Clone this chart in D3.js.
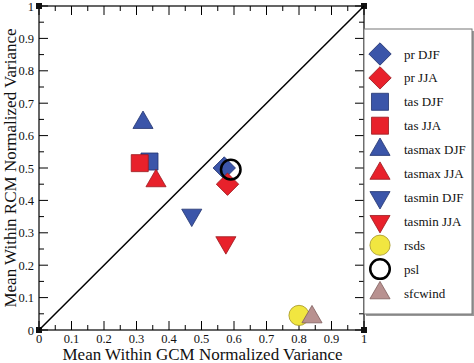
<!DOCTYPE html>
<html>
<head>
<meta charset="utf-8">
<script src="https://cdn.jsdelivr.net/npm/d3@7"></script>
<style>
  body { margin: 0; background: #fff; }
  text { font-family: "Liberation Serif", "Times New Roman", serif; fill: #111; }
</style>
</head>
<body>
<svg id="chart" width="474" height="363"></svg>
<script>
// series names, in legend / draw order
var seriesNames = ["pr DJF", "pr JJA", "tas DJF", "tas JJA", "tasmax DJF", "tasmax JJA",
                   "tasmin DJF", "tasmin JJA", "rsds", "psl", "sfcwind"];
// mean within GCM normalized variance
var gcmVariance = [0.57, 0.58, 0.34, 0.31, 0.32, 0.36, 0.47, 0.575, 0.80, 0.59, 0.84];
// mean within RCM normalized variance
var rcmVariance = [0.50, 0.45, 0.52, 0.515, 0.64, 0.46, 0.355, 0.27, 0.045, 0.495, 0.04];
var tickValues = [0, 0.1, 0.2, 0.3, 0.4, 0.5, 0.6, 0.7, 0.8, 0.9, 1];
var minorTicks = [0.05, 0.15, 0.25, 0.35, 0.45, 0.55, 0.65, 0.75, 0.85, 0.95];

var blue = "#3b55a9", red = "#e8212b";
var markerStyles = {
    "pr DJF":     { shape: "diamond",  fill: blue,      stroke: "#22336f" },
    "pr JJA":     { shape: "diamond",  fill: red,       stroke: "#9a1a1f" },
    "tas DJF":    { shape: "square",   fill: blue,      stroke: "#22336f" },
    "tas JJA":    { shape: "square",   fill: red,       stroke: "#9a1a1f" },
    "tasmax DJF": { shape: "triUp",    fill: blue,      stroke: "#22336f" },
    "tasmax JJA": { shape: "triUp",    fill: red,       stroke: "#9a1a1f" },
    "tasmin DJF": { shape: "triDown",  fill: blue,      stroke: "#22336f" },
    "tasmin JJA": { shape: "triDown",  fill: red,       stroke: "#9a1a1f" },
    "rsds":       { shape: "circle",   fill: "#f1e640", stroke: "#a39427" },
    "psl":        { shape: "ring",     fill: "none",    stroke: "#000" },
    "sfcwind":    { shape: "triUp",    fill: "#b89190", stroke: "#7d5d5c" }
};

var margin = { left: 39, right: 110, top: 6, bottom: 33 };
var width = 474, height = 363;

var svg = d3.select("#chart");

var x = d3.scaleLinear().domain([0, 1]).range([margin.left, width - margin.right]);
var y = d3.scaleLinear().domain([0, 1]).range([height - margin.bottom, margin.top]);

var symbolPath = function(shape) {
    if (shape === "square") return d3.symbol().type(d3.symbolSquare).size(290)();
    if (shape === "diamond") return d3.symbol().type(d3.symbolSquare).size(250)();
    if (shape === "triUp" || shape === "triDown") return d3.symbol().type(d3.symbolTriangle).size(175)();
    return d3.symbol().type(d3.symbolCircle).size(shape === "ring" ? 300 : 320)();
};

var symbolTransform = function(shape, px, py) {
    var t = "translate(" + px + "," + py + ")";
    if (shape === "diamond") t += " rotate(45)";
    if (shape === "triDown") t += " rotate(180)";
    return t;
};

// frame
svg.append("rect")
    .attr("x", x(0)).attr("y", y(1))
    .attr("width", x(1) - x(0)).attr("height", y(0) - y(1))
    .attr("fill", "none").attr("stroke", "#000").attr("stroke-width", 1.2);

// ticks on all four sides, pointing inward
var tickLine = function(vals, len) {
    vals.forEach(function(v) {
        svg.append("line").attr("x1", x(v)).attr("x2", x(v))
            .attr("y1", y(0)).attr("y2", y(0) - len).attr("stroke", "#000");
        svg.append("line").attr("x1", x(v)).attr("x2", x(v))
            .attr("y1", y(1)).attr("y2", y(1) + len).attr("stroke", "#000");
        svg.append("line").attr("y1", y(v)).attr("y2", y(v))
            .attr("x1", x(0)).attr("x2", x(0) + len).attr("stroke", "#000");
        svg.append("line").attr("y1", y(v)).attr("y2", y(v))
            .attr("x1", x(1)).attr("x2", x(1) - len).attr("stroke", "#000");
    });
};
tickLine(tickValues, 9);
tickLine(minorTicks, 5);

// tick labels
svg.selectAll(".xlab").data(tickValues).enter().append("text")
    .attr("x", function(d) { return x(d); })
    .attr("y", height - margin.bottom + 13)
    .attr("text-anchor", "middle")
    .attr("font-size", 12.5)
    .text(function(d) { return d3.format("")(d); });

svg.selectAll(".ylab").data(tickValues).enter().append("text")
    .attr("x", margin.left - 5)
    .attr("y", function(d) { return y(d) + 4.5; })
    .attr("text-anchor", "end")
    .attr("font-size", 12.5)
    .text(function(d) { return d3.format("")(d); });

// corner markers
[[0, 0], [0, 1], [1, 0], [1, 1]].forEach(function(c) {
    svg.append("rect").attr("x", x(c[0]) - 3).attr("y", y(c[1]) - 3)
        .attr("width", 6).attr("height", 6).attr("fill", "#111");
});

// 1:1 line
svg.append("line")
    .attr("x1", x(0)).attr("y1", y(0)).attr("x2", x(1)).attr("y2", y(1))
    .attr("stroke", "#000").attr("stroke-width", 1.5);

// axis titles
svg.append("text")
    .attr("x", (x(0) + x(1)) / 2 + 1).attr("y", 360)
    .attr("text-anchor", "middle").attr("font-size", 17)
    .text("Mean Within GCM Normalized Variance");

svg.append("text")
    .attr("transform", "translate(16," + ((y(0) + y(1)) / 2) + ") rotate(-90)")
    .attr("text-anchor", "middle").attr("font-size", 17)
    .text("Mean Within RCM Normalized Variance");

// points
svg.selectAll(".pt").data(seriesNames).enter().append("path")
    .attr("d", function(d) { return symbolPath(markerStyles[d].shape); })
    .attr("transform", function(d, i) {
        return symbolTransform(markerStyles[d].shape, x(gcmVariance[i]), y(rcmVariance[i]));
    })
    .attr("fill", function(d) { return markerStyles[d].fill; })
    .attr("stroke", function(d) { return markerStyles[d].stroke; })
    .attr("stroke-width", function(d) { return markerStyles[d].shape === "ring" ? 2.5 : 0.8; });

// legend
var legendX = 364, legendY = 29, legendW = 108, legendH = 285, rowH = 23.9;
svg.append("rect").attr("x", legendX + 2).attr("y", legendY + 2)
    .attr("width", legendW).attr("height", legendH).attr("fill", "#999");
svg.append("rect").attr("x", legendX).attr("y", legendY)
    .attr("width", legendW).attr("height", legendH)
    .attr("fill", "#fff").attr("stroke", "#777").attr("stroke-width", 1);

var legendRows = svg.selectAll(".leg").data(seriesNames).enter().append("g")
    .attr("transform", function(d, i) { return "translate(" + legendX + "," + (legendY + 25 + i * rowH) + ")"; });

legendRows.append("path")
    .attr("d", function(d) { return symbolPath(markerStyles[d].shape); })
    .attr("transform", function(d) { return symbolTransform(markerStyles[d].shape, 16, 0); })
    .attr("fill", function(d) { return markerStyles[d].fill; })
    .attr("stroke", function(d) { return markerStyles[d].stroke; })
    .attr("stroke-width", function(d) { return markerStyles[d].shape === "ring" ? 2.5 : 0.8; });

legendRows.append("text")
    .attr("x", 40).attr("y", 4.5)
    .attr("font-size", 13)
    .text(function(d) { return d; });
</script>
</body>
</html>
